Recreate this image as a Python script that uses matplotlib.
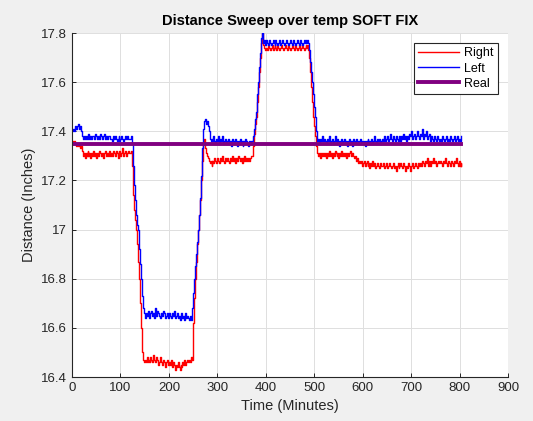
import matplotlib
matplotlib.use("Agg")
import matplotlib.pyplot as plt
import numpy as np

plt.rcParams['font.family'] = ['Liberation Sans', 'DejaVu Sans']

t_start, t_step = 0, 2

left_vals = [
    17.40, 17.41, 17.40, 17.42, 17.41, 17.42, 17.43, 17.41, 17.42, 17.40, 17.38, 17.37, 17.38, 17.37, 17.38, 17.37, 17.38, 17.39, 17.37, 17.38,
    17.37, 17.38, 17.38, 17.37, 17.39, 17.38, 17.37, 17.38, 17.37, 17.39, 17.38, 17.37, 17.38, 17.39, 17.37, 17.38, 17.37, 17.38, 17.38, 17.37,
    17.37, 17.36, 17.38, 17.37, 17.38, 17.37, 17.36, 17.37, 17.38, 17.36, 17.37, 17.38, 17.37, 17.36, 17.37, 17.38, 17.37, 17.38, 17.37, 17.37,
    17.37, 17.38, 17.35, 17.26, 17.18, 17.12, 17.06, 17.02, 17.00, 16.92, 16.86, 16.80, 16.73, 16.68, 16.66, 16.64, 16.66, 16.65, 16.67, 16.64,
    16.65, 16.66, 16.67, 16.65, 16.66, 16.64, 16.68, 16.65, 16.67, 16.66, 16.65, 16.64, 16.66, 16.65, 16.67, 16.66, 16.64, 16.65, 16.66, 16.64,
    16.66, 16.65, 16.64, 16.66, 16.65, 16.67, 16.64, 16.65, 16.66, 16.64, 16.65, 16.63, 16.65, 16.66, 16.64, 16.65, 16.63, 16.66, 16.64, 16.65,
    16.64, 16.63, 16.65, 16.63, 16.68, 16.74, 16.80, 16.85, 16.90, 16.95, 17.00, 17.06, 17.13, 17.22, 17.33, 17.41, 17.44, 17.45, 17.43, 17.44,
    17.42, 17.40, 17.37, 17.36, 17.37, 17.36, 17.38, 17.36, 17.35, 17.37, 17.36, 17.38, 17.35, 17.37, 17.36, 17.38, 17.35, 17.36, 17.37, 17.35,
    17.36, 17.37, 17.35, 17.36, 17.34, 17.37, 17.36, 17.35, 17.37, 17.36, 17.34, 17.36, 17.35, 17.37, 17.35, 17.36, 17.34, 17.36, 17.35, 17.37,
    17.36, 17.35, 17.34, 17.36, 17.35, 17.36, 17.36, 17.38, 17.41, 17.45, 17.48, 17.55, 17.60, 17.66, 17.72, 17.78, 17.80, 17.76, 17.77, 17.75,
    17.77, 17.76, 17.75, 17.77, 17.76, 17.75, 17.76, 17.77, 17.76, 17.75, 17.77, 17.76, 17.75, 17.76, 17.77, 17.75, 17.76, 17.77, 17.76, 17.75,
    17.76, 17.77, 17.76, 17.75, 17.76, 17.77, 17.76, 17.75, 17.77, 17.76, 17.75, 17.76, 17.77, 17.76, 17.75, 17.77, 17.76, 17.75, 17.76, 17.77,
    17.76, 17.77, 17.76, 17.77, 17.76, 17.73, 17.68, 17.64, 17.60, 17.55, 17.50, 17.46, 17.40, 17.36, 17.37, 17.35, 17.37, 17.36, 17.38, 17.36,
    17.37, 17.36, 17.35, 17.37, 17.36, 17.38, 17.35, 17.36, 17.37, 17.35, 17.36, 17.38, 17.36, 17.35, 17.37, 17.36, 17.34, 17.36, 17.37, 17.35,
    17.36, 17.37, 17.35, 17.36, 17.34, 17.36, 17.37, 17.35, 17.36, 17.34, 17.37, 17.36, 17.35, 17.37, 17.36, 17.35, 17.36, 17.37, 17.35, 17.36,
    17.35, 17.36, 17.34, 17.36, 17.35, 17.37, 17.36, 17.35, 17.36, 17.37, 17.35, 17.36, 17.38, 17.36, 17.35, 17.37, 17.36, 17.37, 17.35, 17.36,
    17.37, 17.36, 17.38, 17.36, 17.37, 17.38, 17.36, 17.37, 17.39, 17.37, 17.36, 17.38, 17.37, 17.36, 17.38, 17.37, 17.36, 17.37, 17.38, 17.36,
    17.38, 17.37, 17.39, 17.37, 17.38, 17.36, 17.38, 17.37, 17.39, 17.38, 17.40, 17.37, 17.38, 17.39, 17.37, 17.38, 17.40, 17.38, 17.37, 17.39,
    17.38, 17.41, 17.37, 17.39, 17.38, 17.40, 17.37, 17.38, 17.39, 17.37, 17.36, 17.38, 17.37, 17.36, 17.38, 17.37, 17.36, 17.38, 17.37, 17.36,
    17.37, 17.36, 17.38, 17.37, 17.36, 17.37, 17.38, 17.36, 17.37, 17.36, 17.38, 17.37, 17.36, 17.37, 17.38, 17.36, 17.37, 17.38, 17.36, 17.37,
    17.36, 17.37, 17.38,
]

right_vals = [
    17.36, 17.35, 17.36, 17.35, 17.34, 17.35, 17.34, 17.35, 17.33, 17.34, 17.32, 17.30, 17.31, 17.29, 17.31, 17.30, 17.32, 17.30, 17.31, 17.29,
    17.31, 17.30, 17.32, 17.30, 17.31, 17.29, 17.31, 17.30, 17.32, 17.31, 17.30, 17.31, 17.29, 17.31, 17.32, 17.30, 17.31, 17.30, 17.32, 17.30,
    17.31, 17.30, 17.32, 17.31, 17.30, 17.32, 17.31, 17.29, 17.31, 17.32, 17.30, 17.31, 17.33, 17.30, 17.31, 17.32, 17.30, 17.31, 17.32, 17.31,
    17.31, 17.32, 17.26, 17.14, 17.08, 17.04, 17.00, 16.94, 16.87, 16.80, 16.70, 16.60, 16.50, 16.47, 16.46, 16.47, 16.46, 16.48, 16.46, 16.47,
    16.46, 16.48, 16.47, 16.46, 16.49, 16.47, 16.46, 16.48, 16.47, 16.45, 16.46, 16.48, 16.46, 16.45, 16.47, 16.46, 16.44, 16.46, 16.47, 16.45,
    16.46, 16.45, 16.47, 16.44, 16.46, 16.45, 16.43, 16.45, 16.44, 16.46, 16.44, 16.43, 16.45, 16.44, 16.46, 16.45, 16.47, 16.45, 16.46, 16.47,
    16.46, 16.47, 16.46, 16.48, 16.47, 16.62, 16.72, 16.80, 16.87, 16.94, 17.00, 17.06, 17.12, 17.20, 17.28, 17.35, 17.37, 17.33, 17.31, 17.30,
    17.29, 17.28, 17.27, 17.28, 17.26, 17.28, 17.27, 17.29, 17.28, 17.27, 17.29, 17.28, 17.27, 17.29, 17.28, 17.30, 17.28, 17.27, 17.29, 17.28,
    17.29, 17.28, 17.27, 17.29, 17.28, 17.30, 17.28, 17.29, 17.27, 17.29, 17.28, 17.30, 17.29, 17.28, 17.29, 17.27, 17.29, 17.28, 17.30, 17.28,
    17.29, 17.28, 17.29, 17.28, 17.29, 17.30, 17.30, 17.34, 17.39, 17.43, 17.46, 17.52, 17.58, 17.64, 17.70, 17.76, 17.80, 17.75, 17.74, 17.73,
    17.74, 17.73, 17.75, 17.74, 17.73, 17.74, 17.75, 17.73, 17.74, 17.75, 17.74, 17.73, 17.75, 17.74, 17.73, 17.74, 17.75, 17.74, 17.73, 17.74,
    17.75, 17.74, 17.73, 17.75, 17.74, 17.73, 17.74, 17.75, 17.74, 17.73, 17.75, 17.74, 17.73, 17.74, 17.75, 17.73, 17.74, 17.75, 17.74, 17.73,
    17.74, 17.75, 17.74, 17.75, 17.73, 17.70, 17.64, 17.58, 17.52, 17.46, 17.42, 17.38, 17.34, 17.31, 17.30, 17.31, 17.29, 17.31, 17.30, 17.31,
    17.30, 17.31, 17.29, 17.31, 17.30, 17.32, 17.30, 17.31, 17.29, 17.31, 17.30, 17.32, 17.31, 17.30, 17.31, 17.29, 17.31, 17.30, 17.32, 17.30,
    17.31, 17.30, 17.31, 17.29, 17.31, 17.30, 17.31, 17.32, 17.30, 17.31, 17.30, 17.29, 17.30, 17.28, 17.29, 17.27, 17.28, 17.27, 17.28, 17.26,
    17.27, 17.28, 17.26, 17.27, 17.28, 17.26, 17.27, 17.25, 17.27, 17.26, 17.28, 17.26, 17.27, 17.25, 17.26, 17.27, 17.26, 17.25, 17.27, 17.26,
    17.26, 17.27, 17.25, 17.26, 17.27, 17.25, 17.26, 17.27, 17.26, 17.25, 17.26, 17.27, 17.25, 17.26, 17.24, 17.26, 17.27, 17.25, 17.26, 17.27,
    17.26, 17.25, 17.27, 17.26, 17.24, 17.26, 17.25, 17.27, 17.26, 17.24, 17.26, 17.27, 17.25, 17.26, 17.27, 17.26, 17.25, 17.27, 17.26, 17.27,
    17.26, 17.28, 17.27, 17.26, 17.28, 17.27, 17.29, 17.26, 17.28, 17.27, 17.26, 17.28, 17.27, 17.29, 17.27, 17.28, 17.26, 17.27, 17.28, 17.27,
    17.28, 17.27, 17.26, 17.28, 17.27, 17.29, 17.27, 17.26, 17.28, 17.27, 17.26, 17.28, 17.27, 17.26, 17.28, 17.27, 17.29, 17.27, 17.26, 17.28,
    17.26, 17.27, 17.26,
]

real_value = 17.35

x_ticks = [0, 100, 200, 300, 400, 500, 600, 700, 800, 900]
y_ticks = [16.4, 16.6, 16.8, 17.0, 17.2, 17.4, 17.6, 17.8]
y_ticklabels = ['16.4', '16.6', '16.8', '17', '17.2', '17.4', '17.6', '17.8']

t = t_start + t_step * np.arange(len(left_vals))

fig = plt.figure(figsize=(5.33, 4.21), dpi=100, facecolor='#f0f0f0')
ax = fig.add_axes([0.1351, 0.1045, 0.9531 - 0.1351, 0.9216 - 0.1045])
ax.set_facecolor('white')

ax.plot(t, right_vals, color='#ff0000', lw=1.0, drawstyle='steps-post', label='Right')
ax.plot(t, left_vals, color='#0000ff', lw=1.0, drawstyle='steps-post', label='Left')
ax.plot(t, np.full(len(t), real_value), color='#800080', lw=2.8, label='Real')

ax.set_xlim(0, 900)
ax.set_ylim(16.4, 17.8)
ax.set_xticks(x_ticks)
ax.set_yticks(y_ticks)
ax.set_yticklabels(y_ticklabels)
ax.grid(True, color='#dfdfdf', lw=0.7)
ax.set_axisbelow(True)
for s in ['top', 'right']:
    ax.spines[s].set_visible(False)
for s in ['left', 'bottom']:
    ax.spines[s].set_color('#262626')
    ax.spines[s].set_linewidth(0.8)
ax.tick_params(direction='in', length=3, colors='#262626', labelsize=9.5, width=0.7)

ax.set_title('Distance Sweep over temp SOFT FIX', fontsize=10.5, fontweight='bold', color='black', pad=6)
ax.set_xlabel('Time (Minutes)', fontsize=10.5, color='#262626')
ax.set_ylabel('Distance (Inches)', fontsize=10.5, color='#262626')

leg = ax.legend(loc='upper right', fontsize=9, frameon=True, fancybox=False,
                edgecolor='#262626', framealpha=1, handlelength=3.3,
                borderaxespad=0.8, labelspacing=0.25, handletextpad=0.4,
                borderpad=0.35)
leg.get_frame().set_linewidth(0.8)

fig.savefig('out.png', dpi=100, facecolor=fig.get_facecolor())
